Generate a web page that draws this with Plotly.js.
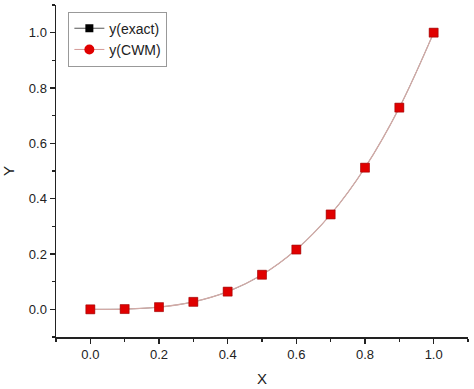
<!DOCTYPE html>
<html>
<head>
<meta charset="utf-8">
<script src="https://cdn.plot.ly/plotly-3.0.1.min.js"></script>
<style>html,body{margin:0;padding:0;background:#fff;}#chart{width:474px;height:389px;}</style>
</head>
<body>
<div id="chart"></div>
<script>
var xValues = [0.0, 0.1, 0.2, 0.3, 0.4, 0.5, 0.6, 0.7, 0.8, 0.9, 1.0];
var yExact = [0.000, 0.001, 0.008, 0.027, 0.064, 0.125, 0.216, 0.343, 0.512, 0.729, 1.000];
var yCWM = [0.000, 0.001, 0.008, 0.027, 0.064, 0.125, 0.216, 0.343, 0.512, 0.729, 1.000];
var seriesNames = ['y(exact)', 'y(CWM)'];

var font = 'Liberation Sans, Arial, sans-serif';

var traces = [
  {
    x: xValues, y: yExact, name: seriesNames[0], type: 'scatter', mode: 'lines+markers', showlegend: false,
    line: {color: '#8a8a8a', width: 1, shape: 'spline'},
    marker: {symbol: 'square', size: 8, color: '#000000'}
  },
  {
    x: xValues, y: yCWM, name: seriesNames[1], type: 'scatter', mode: 'lines+markers', showlegend: false,
    line: {color: '#d2aaa6', width: 1.2, shape: 'spline'},
    marker: {symbol: 'square', size: 9, color: '#e00000', line: {color: '#a00000', width: 0.6}}
  },
  {
    x: [null], y: [null], name: seriesNames[0], type: 'scatter', mode: 'lines+markers',
    line: {color: '#555555', width: 1},
    marker: {symbol: 'square', size: 8, color: '#000000'}
  },
  {
    x: [null], y: [null], name: seriesNames[1], type: 'scatter', mode: 'lines+markers',
    line: {color: '#d49a96', width: 1},
    marker: {symbol: 'circle', size: 10, color: '#e00000'}
  }
];

var axisCommon = {
  showgrid: false, zeroline: false, showline: true, linecolor: '#222', linewidth: 1.5,
  ticks: 'outside', ticklen: 5, tickwidth: 1.2, tickcolor: '#222',
  tickfont: {family: font, size: 13, color: '#222'},
  tick0: 0, dtick: 0.2, tickformat: '.1f', mirror: false
};

var layout = {
  width: 474, height: 389,
  margin: {l: 56, r: 6, t: 5, b: 52},
  paper_bgcolor: '#fff', plot_bgcolor: '#fff',
  showlegend: true,
  legend: {
    x: 0.03, y: 0.98, xanchor: 'left', yanchor: 'top',
    bgcolor: '#fff', bordercolor: '#999', borderwidth: 1,
    font: {family: font, size: 14, color: '#222'},
    tracegroupgap: 0, itemwidth: 30
  },
  xaxis: Object.assign({}, axisCommon, {
    range: [-0.1, 1.1],
    minor: {dtick: 0.1, tick0: 0.1, ticklen: 3, tickcolor: '#222', ticks: 'outside'},
    title: {text: 'X', font: {family: font, size: 15, color: '#222'}, standoff: 12}
  }),
  yaxis: Object.assign({}, axisCommon, {
    range: [-0.1, 1.1],
    minor: {dtick: 0.1, tick0: 0.1, ticklen: 3, tickcolor: '#222', ticks: 'outside'},
    title: {text: 'Y', font: {family: font, size: 15, color: '#222'}, standoff: 12}
  })
};

Plotly.newPlot('chart', traces, layout, {displayModeBar: false, staticPlot: true});
</script>
</body>
</html>
